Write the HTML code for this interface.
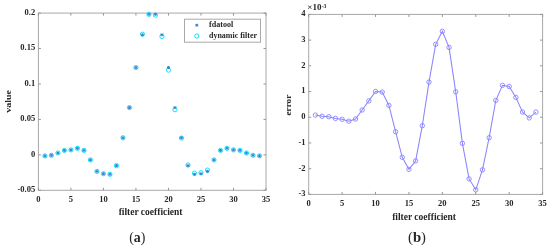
<!DOCTYPE html><html><head><meta charset="utf-8"><style>
html,body{margin:0;padding:0;background:#fff;}
svg{display:block;}
text{font-family:"Liberation Serif", serif;font-weight:bold;fill:#262626;}
</style></head><body>
<svg width="550" height="248" viewBox="0 0 550 248">
<rect width="550" height="248" fill="#fff"/>
<rect x="38.40" y="13.10" width="227.60" height="177.20" fill="none" stroke="#a8a8a8" stroke-width="1"/><path d="M38.40 190.30v-2.50M38.40 13.10v2.50M70.91 190.30v-2.50M70.91 13.10v2.50M103.43 190.30v-2.50M103.43 13.10v2.50M135.94 190.30v-2.50M135.94 13.10v2.50M168.46 190.30v-2.50M168.46 13.10v2.50M200.97 190.30v-2.50M200.97 13.10v2.50M233.49 190.30v-2.50M233.49 13.10v2.50M266.00 190.30v-2.50M266.00 13.10v2.50M38.40 190.30h2.50M266.00 190.30h-2.50M38.40 154.86h2.50M266.00 154.86h-2.50M38.40 119.42h2.50M266.00 119.42h-2.50M38.40 83.98h2.50M266.00 83.98h-2.50M38.40 48.54h2.50M266.00 48.54h-2.50M38.40 13.10h2.50M266.00 13.10h-2.50" stroke="#959595" stroke-width="1" fill="none"/>
<text x="38.40" y="201.60" font-size="8.5" text-anchor="middle">0</text>
<text x="70.91" y="201.60" font-size="8.5" text-anchor="middle">5</text>
<text x="103.43" y="201.60" font-size="8.5" text-anchor="middle">10</text>
<text x="135.94" y="201.60" font-size="8.5" text-anchor="middle">15</text>
<text x="168.46" y="201.60" font-size="8.5" text-anchor="middle">20</text>
<text x="200.97" y="201.60" font-size="8.5" text-anchor="middle">25</text>
<text x="233.49" y="201.60" font-size="8.5" text-anchor="middle">30</text>
<text x="266.00" y="201.60" font-size="8.5" text-anchor="middle">35</text>
<text x="35.20" y="15.00" font-size="8.5" text-anchor="end">0.2</text>
<text x="35.20" y="50.44" font-size="8.5" text-anchor="end">0.15</text>
<text x="35.20" y="85.88" font-size="8.5" text-anchor="end">0.1</text>
<text x="35.20" y="121.32" font-size="8.5" text-anchor="end">0.05</text>
<text x="35.20" y="156.76" font-size="8.5" text-anchor="end">0</text>
<text x="35.20" y="192.20" font-size="8.5" text-anchor="end">-0.05</text>
<text x="150.6" y="215.2" font-size="9.5" text-anchor="middle">filter coefficient</text>
<text x="0" y="0" font-size="9" text-anchor="middle" textLength="22.9" lengthAdjust="spacingAndGlyphs" transform="translate(11.0,101.4) rotate(-90)">value</text>
<text x="137.3" y="241.6" font-size="14" text-anchor="middle" textLength="16.2" lengthAdjust="spacingAndGlyphs"><tspan font-weight="normal">(</tspan>a<tspan font-weight="normal">)</tspan></text>
<rect x="184.5" y="19.2" width="76" height="23.0" fill="#fff" stroke="#a8a8a8" stroke-width="1"/>
<text x="209.0" y="27.4" font-size="7.6" textLength="24.2" lengthAdjust="spacingAndGlyphs">fdatool</text>
<text x="209.0" y="37.9" font-size="7.6" textLength="48.0" lengthAdjust="spacingAndGlyphs">dynamic filter</text>
<g fill="none" stroke="#10e4f8" stroke-width="1"><circle cx="44.90" cy="155.85" r="2.1"/><circle cx="51.41" cy="155.30" r="2.1"/><circle cx="57.91" cy="153.00" r="2.1"/><circle cx="64.41" cy="150.40" r="2.1"/><circle cx="70.91" cy="149.85" r="2.1"/><circle cx="77.42" cy="148.30" r="2.1"/><circle cx="83.92" cy="150.40" r="2.1"/><circle cx="90.42" cy="159.90" r="2.1"/><circle cx="96.93" cy="171.40" r="2.1"/><circle cx="103.43" cy="173.70" r="2.1"/><circle cx="109.93" cy="174.30" r="2.1"/><circle cx="116.43" cy="165.60" r="2.1"/><circle cx="122.94" cy="137.75" r="2.1"/><circle cx="129.44" cy="107.60" r="2.1"/><circle cx="135.94" cy="67.55" r="2.1"/><circle cx="142.45" cy="34.20" r="2.1"/><circle cx="148.95" cy="14.30" r="2.1"/><circle cx="155.45" cy="15.20" r="2.1"/><circle cx="161.95" cy="36.50" r="2.1"/><circle cx="168.46" cy="70.15" r="2.1"/><circle cx="174.96" cy="109.70" r="2.1"/><circle cx="181.46" cy="138.05" r="2.1"/><circle cx="187.97" cy="165.00" r="2.1"/><circle cx="194.47" cy="173.10" r="2.1"/><circle cx="200.97" cy="172.70" r="2.1"/><circle cx="207.47" cy="170.10" r="2.1"/><circle cx="213.98" cy="159.90" r="2.1"/><circle cx="220.48" cy="150.40" r="2.1"/><circle cx="226.98" cy="148.30" r="2.1"/><circle cx="233.49" cy="149.85" r="2.1"/><circle cx="239.99" cy="150.40" r="2.1"/><circle cx="246.49" cy="153.00" r="2.1"/><circle cx="252.99" cy="155.30" r="2.1"/><circle cx="259.50" cy="155.85" r="2.1"/><circle cx="196.8" cy="36" r="2.1"/></g>
<path d="M43.40 155.85h3.00M44.90 154.35v3.00M43.78 154.72l2.25 2.25M43.78 156.97l2.25 -2.25M49.91 155.30h3.00M51.41 153.80v3.00M50.28 154.18l2.25 2.25M50.28 156.43l2.25 -2.25M56.41 153.00h3.00M57.91 151.50v3.00M56.78 151.88l2.25 2.25M56.78 154.12l2.25 -2.25M62.91 150.40h3.00M64.41 148.90v3.00M63.29 149.28l2.25 2.25M63.29 151.53l2.25 -2.25M69.41 149.85h3.00M70.91 148.35v3.00M69.79 148.72l2.25 2.25M69.79 150.97l2.25 -2.25M75.92 148.30h3.00M77.42 146.80v3.00M76.29 147.18l2.25 2.25M76.29 149.43l2.25 -2.25M82.42 150.40h3.00M83.92 148.90v3.00M82.80 149.28l2.25 2.25M82.80 151.53l2.25 -2.25M88.92 159.90h3.00M90.42 158.40v3.00M89.30 158.78l2.25 2.25M89.30 161.03l2.25 -2.25M95.43 171.40h3.00M96.93 169.90v3.00M95.80 170.28l2.25 2.25M95.80 172.53l2.25 -2.25M101.93 173.70h3.00M103.43 172.20v3.00M102.30 172.57l2.25 2.25M102.30 174.82l2.25 -2.25M108.43 174.30h3.00M109.93 172.80v3.00M108.81 173.18l2.25 2.25M108.81 175.43l2.25 -2.25M114.93 165.60h3.00M116.43 164.10v3.00M115.31 164.47l2.25 2.25M115.31 166.72l2.25 -2.25M121.44 137.75h3.00M122.94 136.25v3.00M121.81 136.62l2.25 2.25M121.81 138.88l2.25 -2.25M127.94 107.60h3.00M129.44 106.10v3.00M128.31 106.47l2.25 2.25M128.31 108.72l2.25 -2.25M134.44 67.55h3.00M135.94 66.05v3.00M134.82 66.42l2.25 2.25M134.82 68.67l2.25 -2.25M140.95 34.80h3.00M142.45 33.30v3.00M141.32 33.67l2.25 2.25M141.32 35.92l2.25 -2.25M147.45 14.30h3.00M148.95 12.80v3.00M147.82 13.18l2.25 2.25M147.82 15.43l2.25 -2.25M153.95 14.30h3.00M155.45 12.80v3.00M154.33 13.18l2.25 2.25M154.33 15.43l2.25 -2.25M160.45 34.80h3.00M161.95 33.30v3.00M160.83 33.67l2.25 2.25M160.83 35.92l2.25 -2.25M166.96 67.55h3.00M168.46 66.05v3.00M167.33 66.42l2.25 2.25M167.33 68.67l2.25 -2.25M173.46 107.60h3.00M174.96 106.10v3.00M173.83 106.47l2.25 2.25M173.83 108.72l2.25 -2.25M179.96 137.75h3.00M181.46 136.25v3.00M180.34 136.62l2.25 2.25M180.34 138.88l2.25 -2.25M186.47 165.60h3.00M187.97 164.10v3.00M186.84 164.47l2.25 2.25M186.84 166.72l2.25 -2.25M192.97 174.30h3.00M194.47 172.80v3.00M193.34 173.18l2.25 2.25M193.34 175.43l2.25 -2.25M199.47 173.70h3.00M200.97 172.20v3.00M199.85 172.57l2.25 2.25M199.85 174.82l2.25 -2.25M205.97 171.40h3.00M207.47 169.90v3.00M206.35 170.28l2.25 2.25M206.35 172.53l2.25 -2.25M212.48 159.90h3.00M213.98 158.40v3.00M212.85 158.78l2.25 2.25M212.85 161.03l2.25 -2.25M218.98 150.40h3.00M220.48 148.90v3.00M219.36 149.28l2.25 2.25M219.36 151.53l2.25 -2.25M225.48 148.30h3.00M226.98 146.80v3.00M225.86 147.18l2.25 2.25M225.86 149.43l2.25 -2.25M231.99 149.85h3.00M233.49 148.35v3.00M232.36 148.72l2.25 2.25M232.36 150.97l2.25 -2.25M238.49 150.40h3.00M239.99 148.90v3.00M238.86 149.28l2.25 2.25M238.86 151.53l2.25 -2.25M244.99 153.00h3.00M246.49 151.50v3.00M245.37 151.88l2.25 2.25M245.37 154.12l2.25 -2.25M251.49 155.30h3.00M252.99 153.80v3.00M251.87 154.18l2.25 2.25M251.87 156.43l2.25 -2.25M258.00 155.85h3.00M259.50 154.35v3.00M258.37 154.72l2.25 2.25M258.37 156.97l2.25 -2.25M195.30 25.20h3.00M196.80 23.70v3.00M195.68 24.07l2.25 2.25M195.68 26.32l2.25 -2.25" stroke="#3a7fd6" stroke-width="1" fill="none"/>
<rect x="308.70" y="14.40" width="233.90" height="180.00" fill="none" stroke="#a8a8a8" stroke-width="1"/><path d="M308.70 194.40v-2.50M308.70 14.40v2.50M342.11 194.40v-2.50M342.11 14.40v2.50M375.53 194.40v-2.50M375.53 14.40v2.50M408.94 194.40v-2.50M408.94 14.40v2.50M442.36 194.40v-2.50M442.36 14.40v2.50M475.77 194.40v-2.50M475.77 14.40v2.50M509.19 194.40v-2.50M509.19 14.40v2.50M542.60 194.40v-2.50M542.60 14.40v2.50M308.70 194.40h2.50M542.60 194.40h-2.50M308.70 168.69h2.50M542.60 168.69h-2.50M308.70 142.97h2.50M542.60 142.97h-2.50M308.70 117.26h2.50M542.60 117.26h-2.50M308.70 91.54h2.50M542.60 91.54h-2.50M308.70 65.83h2.50M542.60 65.83h-2.50M308.70 40.11h2.50M542.60 40.11h-2.50M308.70 14.40h2.50M542.60 14.40h-2.50" stroke="#959595" stroke-width="1" fill="none"/>
<text x="308.70" y="206.30" font-size="8.5" text-anchor="middle">0</text>
<text x="342.11" y="206.30" font-size="8.5" text-anchor="middle">5</text>
<text x="375.53" y="206.30" font-size="8.5" text-anchor="middle">10</text>
<text x="408.94" y="206.30" font-size="8.5" text-anchor="middle">15</text>
<text x="442.36" y="206.30" font-size="8.5" text-anchor="middle">20</text>
<text x="475.77" y="206.30" font-size="8.5" text-anchor="middle">25</text>
<text x="509.19" y="206.30" font-size="8.5" text-anchor="middle">30</text>
<text x="542.60" y="206.30" font-size="8.5" text-anchor="middle">35</text>
<text x="305.50" y="196.30" font-size="8.5" text-anchor="end">-3</text>
<text x="305.50" y="170.59" font-size="8.5" text-anchor="end">-2</text>
<text x="305.50" y="144.87" font-size="8.5" text-anchor="end">-1</text>
<text x="305.50" y="119.16" font-size="8.5" text-anchor="end">0</text>
<text x="305.50" y="93.44" font-size="8.5" text-anchor="end">1</text>
<text x="305.50" y="67.73" font-size="8.5" text-anchor="end">2</text>
<text x="305.50" y="42.01" font-size="8.5" text-anchor="end">3</text>
<text x="305.50" y="16.30" font-size="8.5" text-anchor="end">4</text>
<text x="307.3" y="9.6" font-size="9" textLength="14.2" lengthAdjust="spacingAndGlyphs">&#215;10</text>
<text x="321.7" y="8.1" font-size="6.8" textLength="4.6" lengthAdjust="spacingAndGlyphs">-3</text>
<text x="424.1" y="219.6" font-size="9.5" text-anchor="middle">filter coefficient</text>
<text x="0" y="0" font-size="9" text-anchor="middle" textLength="21" lengthAdjust="spacingAndGlyphs" transform="translate(291.2,105.1) rotate(-90)">error</text>
<text x="417.0" y="241.8" font-size="14" text-anchor="middle" textLength="18.0" lengthAdjust="spacingAndGlyphs"><tspan font-weight="normal">(</tspan>b<tspan font-weight="normal">)</tspan></text>
<polyline points="315.38,115.10 322.07,116.30 328.75,116.70 335.43,118.40 342.11,119.30 348.80,121.20 355.48,119.00 362.16,110.00 368.85,100.90 375.53,91.50 382.21,92.10 388.89,105.40 395.58,131.70 402.26,157.30 408.94,169.30 415.63,160.90 422.31,125.70 428.99,82.10 435.67,44.30 442.36,31.30 449.04,47.40 455.72,91.80 462.41,143.30 469.09,178.90 475.77,189.80 482.45,169.80 489.14,137.70 495.82,100.40 502.50,85.30 509.19,86.50 515.87,97.40 522.55,112.10 529.23,117.90 535.92,112.10" fill="none" stroke="#8a85ff" stroke-width="1.05"/>
<g fill="none" stroke="#8a85ff" stroke-width="0.9"><circle cx="315.38" cy="115.10" r="2.2"/><circle cx="322.07" cy="116.30" r="2.2"/><circle cx="328.75" cy="116.70" r="2.2"/><circle cx="335.43" cy="118.40" r="2.2"/><circle cx="342.11" cy="119.30" r="2.2"/><circle cx="348.80" cy="121.20" r="2.2"/><circle cx="355.48" cy="119.00" r="2.2"/><circle cx="362.16" cy="110.00" r="2.2"/><circle cx="368.85" cy="100.90" r="2.2"/><circle cx="375.53" cy="91.50" r="2.2"/><circle cx="382.21" cy="92.10" r="2.2"/><circle cx="388.89" cy="105.40" r="2.2"/><circle cx="395.58" cy="131.70" r="2.2"/><circle cx="402.26" cy="157.30" r="2.2"/><circle cx="408.94" cy="169.30" r="2.2"/><circle cx="415.63" cy="160.90" r="2.2"/><circle cx="422.31" cy="125.70" r="2.2"/><circle cx="428.99" cy="82.10" r="2.2"/><circle cx="435.67" cy="44.30" r="2.2"/><circle cx="442.36" cy="31.30" r="2.2"/><circle cx="449.04" cy="47.40" r="2.2"/><circle cx="455.72" cy="91.80" r="2.2"/><circle cx="462.41" cy="143.30" r="2.2"/><circle cx="469.09" cy="178.90" r="2.2"/><circle cx="475.77" cy="189.80" r="2.2"/><circle cx="482.45" cy="169.80" r="2.2"/><circle cx="489.14" cy="137.70" r="2.2"/><circle cx="495.82" cy="100.40" r="2.2"/><circle cx="502.50" cy="85.30" r="2.2"/><circle cx="509.19" cy="86.50" r="2.2"/><circle cx="515.87" cy="97.40" r="2.2"/><circle cx="522.55" cy="112.10" r="2.2"/><circle cx="529.23" cy="117.90" r="2.2"/><circle cx="535.92" cy="112.10" r="2.2"/></g>
</svg></body></html>
